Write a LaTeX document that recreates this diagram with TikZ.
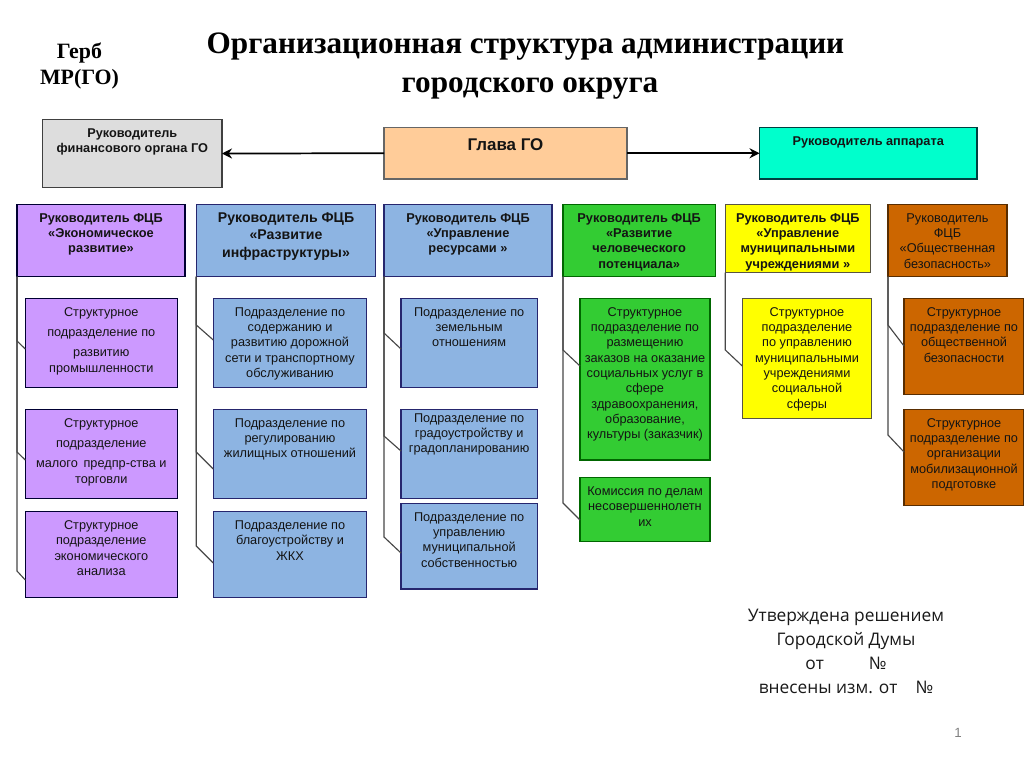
\documentclass[tikz,border=0pt]{standalone}
\usepackage{fontspec}
\setmainfont{Liberation Sans}
\newfontfamily\serifru{Liberation Serif}
\newfontfamily\noteru{Open Sans}
\newcommand\fbody{\fontsize{9.55}{11.5}\selectfont}
\newcommand\fhead{\fontsize{9.6}{11.5}\selectfont\bfseries}
\newcommand\fheadb{\fontsize{10.6}{13}\selectfont\bfseries}
\newcommand\ftop{\fontsize{9.55}{11.3}\selectfont\bfseries}
\newcommand\fglava{\fontsize{12.7}{14}\selectfont\bfseries}
\newcommand\bx[9]{%
  \pgfmathsetmacro\bw{(#4-#2)*0.75}%
  \pgfmathsetmacro\bh{(#5-#3)*0.75}%
  \pgfmathsetmacro\bo{#7*0.75}%
  \node[orgbox,#6,minimum width=\bw pt,minimum height=\bh pt] (#1) at ({(#2+#4)/2},{(#3+#5)/2})
    {\parbox[c][\bh pt][t]{\bw pt}{\vspace*{\bo pt}\centering #8\strut #9\par}};}
\definecolor{cpurple}{HTML}{CC99FF}
\definecolor{cblue}{HTML}{8DB4E2}
\definecolor{cgreen}{HTML}{33CC33}
\definecolor{cyellowb}{HTML}{FFFF00}
\definecolor{corange}{HTML}{CC6600}
\definecolor{cgray}{HTML}{DDDDDD}
\definecolor{cpeach}{HTML}{FFCC99}
\definecolor{ccyan}{HTML}{00FFCC}
\definecolor{ctext}{HTML}{141414}
\tikzset{
  orgbox/.style={draw,rectangle,inner sep=0pt,outer sep=0pt,line width=0.85pt,text=ctext},
  purplebox/.style={fill=cpurple,draw=black!80!blue},
  bluebox/.style={fill=cblue,draw=black!60!blue!70!gray},
  greenbox/.style={fill=cgreen,draw=black!60!green},
  yellowbox/.style={fill=cyellowb,draw=black!75!yellow},
  orangebox/.style={fill=corange,draw=black!65!orange},
  graybox/.style={fill=cgray,draw=black!75},
  peachbox/.style={fill=cpeach,draw=black!60},
  cyanbox/.style={fill=ccyan,draw=black!50!teal},
  link/.style={draw=black!72,line width=0.85pt,line join=miter},
  harrow/.style={draw=black,line width=1.3pt,{Stealth[length=7.5pt,width=7.5pt]}-},
  harrowr/.style={draw=black,line width=1.3pt,-{Stealth[length=7.5pt,width=7.5pt]}}
}
\usetikzlibrary{arrows.meta}
\begin{document}
\begin{tikzpicture}[x=0.75pt,y=-0.75pt]
\useasboundingbox (0,0) rectangle (1024,768);
% title
\node[font=\serifru\bfseries\fontsize{23.4}{27}\selectfont] (t1) at (525.5,47) {Организационная структура администрации};
\node[font=\serifru\bfseries\fontsize{23.4}{27}\selectfont] (t2) at (530,88.5) {городского округа};
\node[font=\serifru\bfseries\fontsize{16.4}{19}\selectfont] (g1) at (79.5,52.5) {Герб};
\node[font=\serifru\bfseries\fontsize{16.4}{19}\selectfont] (g2) at (79.5,79) {МР(ГО)};
% top row
\bx{fin}{42.5}{119.5}{222}{187.5}{graybox}{7}{\ftop}{Руководитель\\финансового органа ГО}
\bx{glava}{384}{127.5}{627}{179}{peachbox}{9.5}{\fglava}{Глава ГО}
\bx{app}{759.5}{127.5}{977}{179}{cyanbox}{7.5}{\ftop}{Руководитель аппарата}
\draw[harrow] (fin.east) -- (glava.west);
\draw[harrowr] (glava.east) -- (app.west);
% heads
\bx{h1}{17}{204.7}{185}{276.7}{purplebox}{6.8}{\fhead}{Руководитель ФЦБ\\«Экономическое\\развитие»}
\bx{h2}{196.3}{204.7}{375.7}{276.7}{bluebox}{5.8}{\fheadb}{Руководитель ФЦБ\\«Развитие\\инфраструктуры»}
\bx{h3}{384}{204.7}{552}{276.7}{bluebox}{6.8}{\fhead}{Руководитель ФЦБ\\«Управление\\ресурсами »}
\bx{h4}{563}{204.7}{715.3}{276.7}{greenbox}{6.8}{\fhead}{Руководитель ФЦБ\\«Развитие\\человеческого\\потенциала»}
\bx{h5}{725.3}{204.7}{870.3}{272.7}{yellowbox}{6.8}{\fhead}{Руководитель ФЦБ\\«Управление\\муниципальными\\учреждениями »}
\bx{h6}{888}{204.7}{1007}{276.7}{orangebox}{6.8}{\fbody}{Руководитель\\ФЦБ\\«Общественная\\безопасность»}
% subunits
\bx{s11}{25.3}{298.3}{177.3}{387.3}{purplebox}{7}{\fbody}{Структурное\\[3.5pt]подразделение по\\[3.7pt]развитию\\[1pt]промышленности}
\bx{s12}{25.3}{409.3}{177.3}{498.3}{purplebox}{7}{\fbody}{Структурное\\[3.5pt]подразделение\\[3.7pt]малого\, предпр-ства и\\[1pt]торговли}
\bx{s13}{25.3}{511.7}{177.3}{597.7}{purplebox}{7}{\fbody}{Структурное\\подразделение\\экономического\\анализа}
\bx{s21}{213.3}{298.3}{366.7}{387.3}{bluebox}{7}{\fbody}{Подразделение по\\содержанию и\\развитию дорожной\\сети и транспортному\\обслуживанию}
\bx{s22}{213.3}{409.3}{366.7}{498.3}{bluebox}{7}{\fbody}{Подразделение по\\регулированию\\жилищных отношений}
\bx{s23}{213.3}{511.7}{366.7}{597.7}{bluebox}{7}{\fbody}{Подразделение по\\благоустройству и\\ЖКХ}
\bx{s31}{401}{298.3}{537.3}{387.3}{bluebox}{7}{\fbody}{Подразделение по\\земельным\\отношениям}
\bx{s32}{401}{409.3}{537.3}{498.3}{bluebox}{2}{\fbody}{Подразделение по\\градоустройству и\\градопланированию}
\bx{s33}{401}{503.3}{537.3}{589}{bluebox}{7}{\fbody}{Подразделение по\\управлению\\муниципальной\\собственностью}
\bx{s41}{580}{298.3}{710}{460}{greenbox}{7}{\fbody}{Структурное\\подразделение по\\размещению\\заказов на оказание\\социальных услуг в\\сфере\\здравоохранения,\\образование,\\культуры (заказчик)}
\bx{s42}{580}{477.7}{710}{541.7}{greenbox}{7}{\fbody}{Комиссия по делам\\несовершеннолетн\\их}
\bx{s51}{742.3}{298.3}{871.7}{418.3}{yellowbox}{7}{\fbody}{Структурное\\подразделение\\по управлению\\муниципальными\\учреждениями\\социальной\\сферы}
\bx{s61}{904}{298.3}{1024}{394.3}{orangebox}{7}{\fbody}{Структурное\\подразделение по\\общественной\\безопасности}
\bx{s62}{904}{409.3}{1024}{505.3}{orangebox}{7}{\fbody}{Структурное\\подразделение по\\организации\\мобилизационной\\подготовке}
% connectors
\draw[link] (h1.south west) -- (h1.south west |- 0,341) -- (s11.north west |- 0,349);
\draw[link] (h1.south west) -- (h1.south west |- 0,452) -- (s12.north west |- 0,460);
\draw[link] (h1.south west) -- (h1.south west |- 0,571) -- (s13.north west |- 0,580);
\draw[link] (h2.south west) -- (h2.south west |- 0,325) -- (s21.north west |- 0,340);
\draw[link] (h2.south west) -- (h2.south west |- 0,452) -- (s22.north west |- 0,469);
\draw[link] (h2.south west) -- (h2.south west |- 0,546) -- (s23.north west |- 0,563);
\draw[link] (h3.south west) -- (h3.south west |- 0,333) -- (s31.north west |- 0,349);
\draw[link] (h3.south west) -- (h3.south west |- 0,436) -- (s32.north west |- 0,451);
\draw[link] (h3.south west) -- (h3.south west |- 0,537) -- (s33.north west |- 0,553);
\draw[link] (h4.south west) -- (h4.south west |- 0,350) -- (s41.north west |- 0,366);
\draw[link] (h4.south west) -- (h4.south west |- 0,503) -- (s42.north west |- 0,520);
\draw[link] (h5.south west) -- (h5.south west |- 0,350) -- (s51.north west |- 0,366);
\draw[link] (h6.south west) -- (h6.south west |- 0,325) -- (s61.north west |- 0,346);
\draw[link] (h6.south west) -- (h6.south west |- 0,435) -- (s62.north west |- 0,452);
% note
\node[font=\noteru\fontsize{13}{18}\selectfont,align=center,text=black!90] (note) at (846,651) {Утверждена решением\\Городской Думы\\от\hspace{2.6em}№\\внесены изм. от\hspace{1.05em}№};
\node[font=\fontsize{10}{12}\selectfont,text=black!50] (pg) at (958,733) {1};
\end{tikzpicture}
\end{document}
